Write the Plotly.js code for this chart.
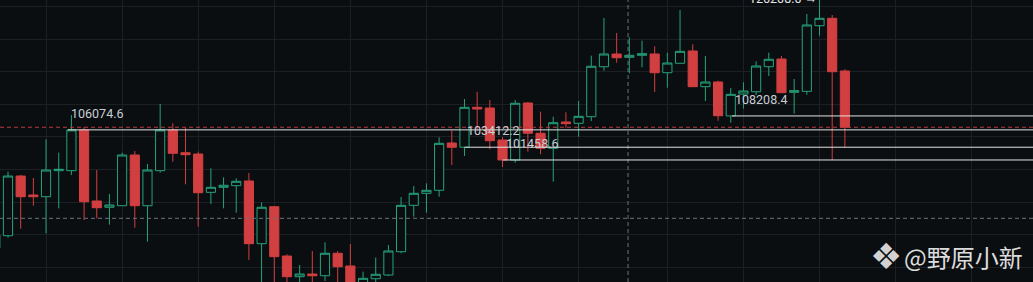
<!DOCTYPE html>
<html>
<head>
<meta charset="utf-8">
<script src="https://cdn.plot.ly/plotly-3.0.1.min.js"></script>
<style>
html,body{margin:0;padding:0;background:#0b0e11;overflow:hidden;}
#chart{width:1033px;height:282px;}
</style>
</head>
<body>
<div id="chart"></div>
<script>
// candle index positions (first one is a partly hidden candle at the left edge)
const candleIndex = [-1,0,1,2,3,4,5,6,7,8,9,10,11,12,13,14,15,16,17,18,19,20,21,22,23,24,25,26,27,28,29,30,31,32,33,34,35,36,37,38,39,40,41,42,43,44,45,46,47,48,49,50,51,52,53,54,55,56,57,58,59,60,61,62,63,64,65,66];

const openPrices = [87970,89850,99000,96090,95830,99820,99820,106070,95170,94210,94450,102220,94450,99820,106070,102570,102370,96500,97270,97520,98240,88630,94300,86740,83570,83980,83720,87160,85210,81220,83260,83830,87400,94510,96350,96810,104060,103412.2,109530,109420,104520,101460,110190,105550,103250,107280,107080,108090,115750,117700,117200,117500,117700,114830,116280,118160,112690,113410,108208.4,111570,111920,115750,116930,111830,111980,122040,123170,115100];

const highPrices = [90270,99660,99160,98700,104630,102570,108350,106470,99920,96240,102570,102830,100840,110040,107080,106410,102730,100180,98800,98650,99460,94970,94410,87000,85360,87510,88840,87510,88580,84340,86510,88430,95780,97470,97880,104930,105950,110800,111920,110650,104980,110650,110340,108860,108090,108770,110500,117440,123220,120920,120260,119740,118880,117900,124440,119190,117390,113610,112490,113360,116580,117900,117390,113870,123830,126208.0,123680,115360];

const lowPrices = [87360,89550,90930,94450,90220,94050,99160,92260,92520,91540,94400,91080,88930,99510,101190,97730,91230,94710,94050,93380,86130,81840,81530,81530,81530,81530,82910,81220,80310,80610,81530,83680,87160,92770,93380,95830,100690,102070,105900,103100,100380,101040,102730,102330,98130,106410,105030,107430,115140,116370,114740,115660,111880,112540,116280,112690,110500,107480,107170,109320,111420,114330,111770,108550,111460,120510,101460,103410];

const closePrices = [89960,99000,95830,95830,99920,100030,106074.6,95060,94140,94560,102220,94450,99920,106070,102480,102270,96440,97270,97580,98190,88630,94210,86640,83570,83980,83720,87160,85100,81220,83320,83940,87510,94510,96350,96810,104010,103410,109530,109270,104410,101458.6,110150,105550,103250,107170,107020,108150,115820,117700,117130,117500,117750,114830,116320,118110,112690,113410,108240,111520,112030,115860,116890,111770,112080,122150,123170,114990,106470];

// drawn horizontal levels and the candle where each one starts
const levelPrices = [106074.6, 103412.2, 101458.6, 108208.4];
const levelStart = [4.73, 36.0, 39.0, 57.1];

// high marker
const highMarkIndex = 64;
const highMarkPrice = 126208.0;

// crosshair
const crossX = 48.9;
const crossY = 92520;

// vertical time grid positions
const timeGrid = [3,9,15,21,27,33,39,45,52,58,64,70,76];

const GREEN = '#25a37a';
const RED = '#d23f41';
const BG = '#0b0e11';
const GRID = '#1c2025';

const Y_MIN = 82758, Y_MAX = 125977;
const lastClose = closePrices[closePrices.length - 1];

const trace = {
  type: 'candlestick',
  x: candleIndex,
  open: openPrices,
  high: highPrices,
  low: lowPrices,
  close: closePrices,
  increasing: {line: {color: GREEN, width: 1}, fillcolor: BG},
  decreasing: {line: {color: RED, width: 1}, fillcolor: RED},
  whiskerwidth: 0,
  hoverinfo: 'skip',
  showlegend: false
};

const shapes = [];
shapes.push({type:'line', xref:'paper', x0:0, x1:1, yref:'y', y0:lastClose, y1:lastClose,
  line:{color:'#b83a3e', width:1, dash:'4px,3px'}, layer:'above'});
shapes.push({type:'line', xref:'paper', x0:0, x1:1, yref:'y', y0:crossY, y1:crossY,
  line:{color:'#6c727c', width:1, dash:'4px,3px'}, layer:'above'});
shapes.push({type:'line', xref:'x', x0:crossX, x1:crossX, yref:'paper', y0:0, y1:1,
  line:{color:'#6c727c', width:1, dash:'4px,3px'}, layer:'above'});

const annotations = [];
levelPrices.forEach((p, k) => {
  shapes.push({type:'line', xref:'x', x0:levelStart[k], x1:90, yref:'y', y0:p, y1:p,
    line:{color:'#e2e2e2', width:1}, layer:'above'});
  annotations.push({xref:'x', yref:'y', x:levelStart[k], y:p, xanchor:'left', yanchor:'middle',
    xshift:1, yshift:16.5, showarrow:false, text:p.toFixed(1),
    font:{family:'Roboto, "Liberation Sans", sans-serif', size:12.5, color:'#c9ced6'}});
});

const pxPerPrice = 282 / (Y_MAX - Y_MIN);
annotations.push({xref:'x', yref:'paper', x:highMarkIndex, y:1, xanchor:'right', yanchor:'middle',
  xshift:-1, yshift:(highMarkPrice - Y_MAX) * pxPerPrice, showarrow:false,
  text:highMarkPrice.toFixed(1) + ' \u2192',
  font:{family:'Roboto, "Liberation Sans", sans-serif', size:12.5, color:'#e6e6e6'}});

annotations.push({xref:'paper', yref:'paper', x:0.8577, y:0.092, xanchor:'center', yanchor:'middle',
  showarrow:false, text:'\u2756', font:{family:'"DejaVu Sans", sans-serif', size:36, color:'#d2d2d2'}});
annotations.push({xref:'paper', yref:'paper', x:0.9925, y:0.09, xanchor:'right', yanchor:'middle',
  showarrow:false, text:'@野原小新', font:{family:'"Noto Sans CJK SC", sans-serif', size:24, color:'#dcdcdc'}});

const layout = {
  width: 1033, height: 282,
  margin: {l:0, r:0, t:0, b:0, pad:0},
  paper_bgcolor: BG, plot_bgcolor: BG,
  showlegend: false,
  boxgap: 0.15, boxgroupgap: 0.15,
  xaxis: {range: [-0.631, 80.836], showticklabels: false, ticks: '', zeroline: false,
    showline: false, tickmode: 'array', tickvals: timeGrid, showgrid: true,
    gridcolor: GRID, gridwidth: 1, rangeslider: {visible: false}, fixedrange: true},
  yaxis: {range: [Y_MIN, Y_MAX], showticklabels: false, ticks: '', zeroline: false,
    showline: false, tick0: 0, dtick: 5000, showgrid: true, gridcolor: GRID, gridwidth: 1,
    fixedrange: true},
  shapes: shapes,
  annotations: annotations
};

Plotly.newPlot('chart', [trace], layout, {staticPlot: true, displayModeBar: false});
</script>
</body>
</html>
